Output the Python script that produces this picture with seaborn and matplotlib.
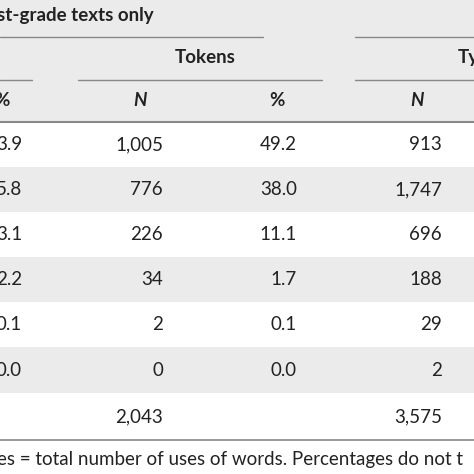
import matplotlib
matplotlib.use("Agg")
import matplotlib.pyplot as plt
import seaborn as sns

sns.set_theme(style="white")
plt.rcParams['font.family'] = ['Lato', 'DejaVu Sans']

left_pct = ["3.9", "5.8", "3.1", "2.2", "0.1", "0.0", ""]
tok_n = ["1,005", "776", "226", "34", "2", "0", "2,043"]
tok_pct = ["49.2", "38.0", "11.1", "1.7", "0.1", "0.0", ""]
typ_n = ["913", "1,747", "696", "188", "29", "2", "3,575"]
bounds = [122, 167, 212, 257, 302, 347, 393, 440]

fig = plt.figure(figsize=(4.74, 4.74), dpi=100)
ax = fig.add_axes([0, 0, 1, 1])
ax.set_xlim(0, 474); ax.set_ylim(474, 0); ax.axis("off")
grey = "#ebebeb"; c = "#222222"; fs = 13.5
ax.axhspan(0, 122, color=grey, lw=0)
for i in (1, 3, 5):
    ax.axhspan(bounds[i], bounds[i + 1], color=grey, lw=0)
ax.text(-3, 15, "st-grade texts only", fontsize=fs, fontweight="bold", color=c, va="center")
ax.text(205, 57, "Tokens", fontsize=fs, fontweight="bold", color=c, va="center", ha="center")
ax.text(458, 57, "Ty", fontsize=fs, fontweight="bold", color=c, va="center")
for x0, x1, y, lw in [(0, 263, 37, 1), (355, 474, 37, 1), (0, 32, 80, 1), (78, 322, 80, 1),
                      (355, 474, 80, 1), (0, 474, 122, 1.5), (0, 474, 440, 1.2)]:
    ax.plot([x0, x1], [y, y], color="#888888", lw=lw)
for x, t in [(2, "%"), (140, "N"), (277, "%"), (417, "N")]:
    ax.text(x, 100, t, fontsize=fs, fontweight="bold", style="italic" if t == "N" else "normal",
            color=c, va="center", ha="center")
for i in range(7):
    y = (bounds[i] + bounds[i + 1]) / 2
    ax.text(22, y, left_pct[i], fontsize=fs, color=c, va="center", ha="right")
    ax.text(163, y, tok_n[i], fontsize=fs, color=c, va="center", ha="right")
    ax.text(297, y, tok_pct[i], fontsize=fs, color=c, va="center", ha="right")
    ax.text(442, y, typ_n[i], fontsize=fs, color=c, va="center", ha="right")
ax.text(-3, 460, "es = total number of uses of words. Percentages do not t", fontsize=fs, color=c, va="center")
fig.savefig("out.png", dpi=100, facecolor="white")
